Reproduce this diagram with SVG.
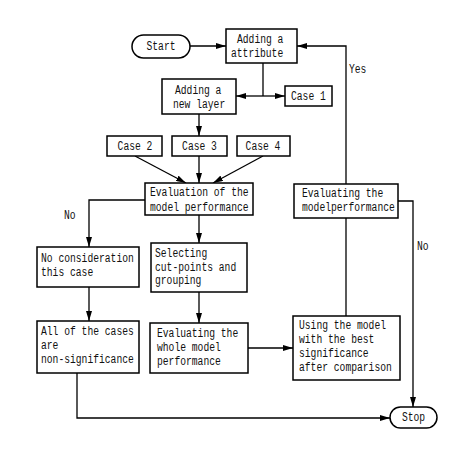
<svg xmlns="http://www.w3.org/2000/svg" width="474" height="462" viewBox="0 0 474 462">
<style>
rect.b{fill:#fff;stroke:#000;stroke-width:1.5}
text{font-family:"Liberation Mono","DejaVu Sans Mono",monospace;font-size:12px;fill:#111}
.c{stroke:#000;stroke-width:1.3;fill:none}
</style>
<defs>
<marker id="ah" markerUnits="userSpaceOnUse" markerWidth="10" markerHeight="6" refX="10" refY="3" orient="auto">
<path d="M0,0 L10,3 L0,6 z" fill="#000"/>
</marker>
</defs>
<rect width="474" height="462" fill="#fff"/>
<g id="connectors">
<path class="c" d="M190,46 H226" marker-end="url(#ah)"/>
<path class="c" d="M263,63 V96"/>
<path class="c" d="M263,96 H236" marker-end="url(#ah)"/>
<path class="c" d="M263,96 H285" marker-end="url(#ah)"/>
<path class="c" d="M199,114 V136" marker-end="url(#ah)"/>
<path class="c" d="M135,156 L186,183" marker-end="url(#ah)"/>
<path class="c" d="M199,156 V183" marker-end="url(#ah)"/>
<path class="c" d="M263,156 L213,183" marker-end="url(#ah)"/>
<path class="c" d="M145,200 H89 V247" marker-end="url(#ah)"/>
<path class="c" d="M199,215 V243" marker-end="url(#ah)"/>
<path class="c" d="M89,287 V321" marker-end="url(#ah)"/>
<path class="c" d="M199,292 V323" marker-end="url(#ah)"/>
<path class="c" d="M248,348 H293" marker-end="url(#ah)"/>
<path class="c" d="M346,316 V218"/>
<path class="c" d="M346,184 V46 H297" marker-end="url(#ah)"/>
<path class="c" d="M398,201 H413 V407" marker-end="url(#ah)"/>
<path class="c" d="M77,373 V418 H390" marker-end="url(#ah)"/>
<text x="349" y="73" textLength="17.4" lengthAdjust="spacingAndGlyphs">Yes</text>
<text x="64" y="219" textLength="11.6" lengthAdjust="spacingAndGlyphs">No</text>
<text x="417" y="250" textLength="11.6" lengthAdjust="spacingAndGlyphs">No</text>
</g>
<g id="start">
<rect class="b" x="132" y="35" width="58" height="23" rx="11.5"/>
<text x="146.5" y="50" textLength="29" lengthAdjust="spacingAndGlyphs">Start</text>
</g>
<g id="add-attribute">
<rect class="b" x="226" y="29" width="71" height="34"/>
<text x="237" y="43" textLength="46.4" lengthAdjust="spacingAndGlyphs">Adding a</text>
<text x="231" y="57" textLength="52.2" lengthAdjust="spacingAndGlyphs">attribute</text>
</g>
<g id="add-layer">
<rect class="b" x="162" y="79" width="74" height="35"/>
<text x="175" y="94" textLength="46.4" lengthAdjust="spacingAndGlyphs">Adding a</text>
<text x="173" y="108" textLength="52.2" lengthAdjust="spacingAndGlyphs">new layer</text>
</g>
<g id="case1">
<rect class="b" x="285" y="86" width="47" height="20"/>
<text x="291" y="100" textLength="34.8" lengthAdjust="spacingAndGlyphs">Case 1</text>
</g>
<g id="case2">
<rect class="b" x="107" y="136" width="55" height="20"/>
<text x="117.6" y="150" textLength="34.8" lengthAdjust="spacingAndGlyphs">Case 2</text>
</g>
<g id="case3">
<rect class="b" x="172" y="136" width="55" height="20"/>
<text x="182.1" y="150" textLength="34.8" lengthAdjust="spacingAndGlyphs">Case 3</text>
</g>
<g id="case4">
<rect class="b" x="237" y="136" width="53" height="20"/>
<text x="245.6" y="150" textLength="34.8" lengthAdjust="spacingAndGlyphs">Case 4</text>
</g>
<g id="eval-model">
<rect class="b" x="145" y="183" width="108" height="32"/>
<text x="150" y="196" textLength="98.6" lengthAdjust="spacingAndGlyphs">Evaluation of the</text>
<text x="150" y="211" textLength="98.6" lengthAdjust="spacingAndGlyphs">model performance</text>
</g>
<g id="no-consideration">
<rect class="b" x="37" y="247" width="102" height="40"/>
<text x="41" y="262" textLength="92.8" lengthAdjust="spacingAndGlyphs">No consideration</text>
<text x="41" y="276" textLength="52.2" lengthAdjust="spacingAndGlyphs">this case</text>
</g>
<g id="selecting">
<rect class="b" x="151" y="243" width="96" height="49"/>
<text x="155" y="257" textLength="52.2" lengthAdjust="spacingAndGlyphs">Selecting</text>
<text x="155" y="271" textLength="81.2" lengthAdjust="spacingAndGlyphs">cut-points and</text>
<text x="155" y="284" textLength="46.4" lengthAdjust="spacingAndGlyphs">grouping</text>
</g>
<g id="all-cases">
<rect class="b" x="37" y="321" width="102" height="52"/>
<text x="41" y="335" textLength="92.8" lengthAdjust="spacingAndGlyphs">All of the cases</text>
<text x="41" y="349" textLength="17.4" lengthAdjust="spacingAndGlyphs">are</text>
<text x="41" y="363" textLength="92.8" lengthAdjust="spacingAndGlyphs">non-significance</text>
</g>
<g id="eval-whole">
<rect class="b" x="150" y="323" width="98" height="50"/>
<text x="157" y="337" textLength="81.2" lengthAdjust="spacingAndGlyphs">Evaluating the</text>
<text x="157" y="351" textLength="63.8" lengthAdjust="spacingAndGlyphs">whole model</text>
<text x="157" y="365" textLength="63.8" lengthAdjust="spacingAndGlyphs">performance</text>
</g>
<g id="using-model">
<rect class="b" x="293" y="316" width="107" height="64"/>
<text x="299" y="329" textLength="87" lengthAdjust="spacingAndGlyphs">Using the model</text>
<text x="299" y="343" textLength="75.4" lengthAdjust="spacingAndGlyphs">with the best</text>
<text x="299" y="357" textLength="69.6" lengthAdjust="spacingAndGlyphs">significance</text>
<text x="299" y="371" textLength="92.8" lengthAdjust="spacingAndGlyphs">after comparison</text>
</g>
<g id="eval-modelperformance">
<rect class="b" x="294" y="184" width="104" height="34"/>
<text x="302" y="197" textLength="81.2" lengthAdjust="spacingAndGlyphs">Evaluating the</text>
<text x="302" y="211" textLength="92.8" lengthAdjust="spacingAndGlyphs">modelperformance</text>
</g>
<g id="stop">
<rect class="b" x="390" y="407" width="47" height="21" rx="10.5"/>
<text x="401.9" y="421" textLength="23.2" lengthAdjust="spacingAndGlyphs">Stop</text>
</g>
</svg>
